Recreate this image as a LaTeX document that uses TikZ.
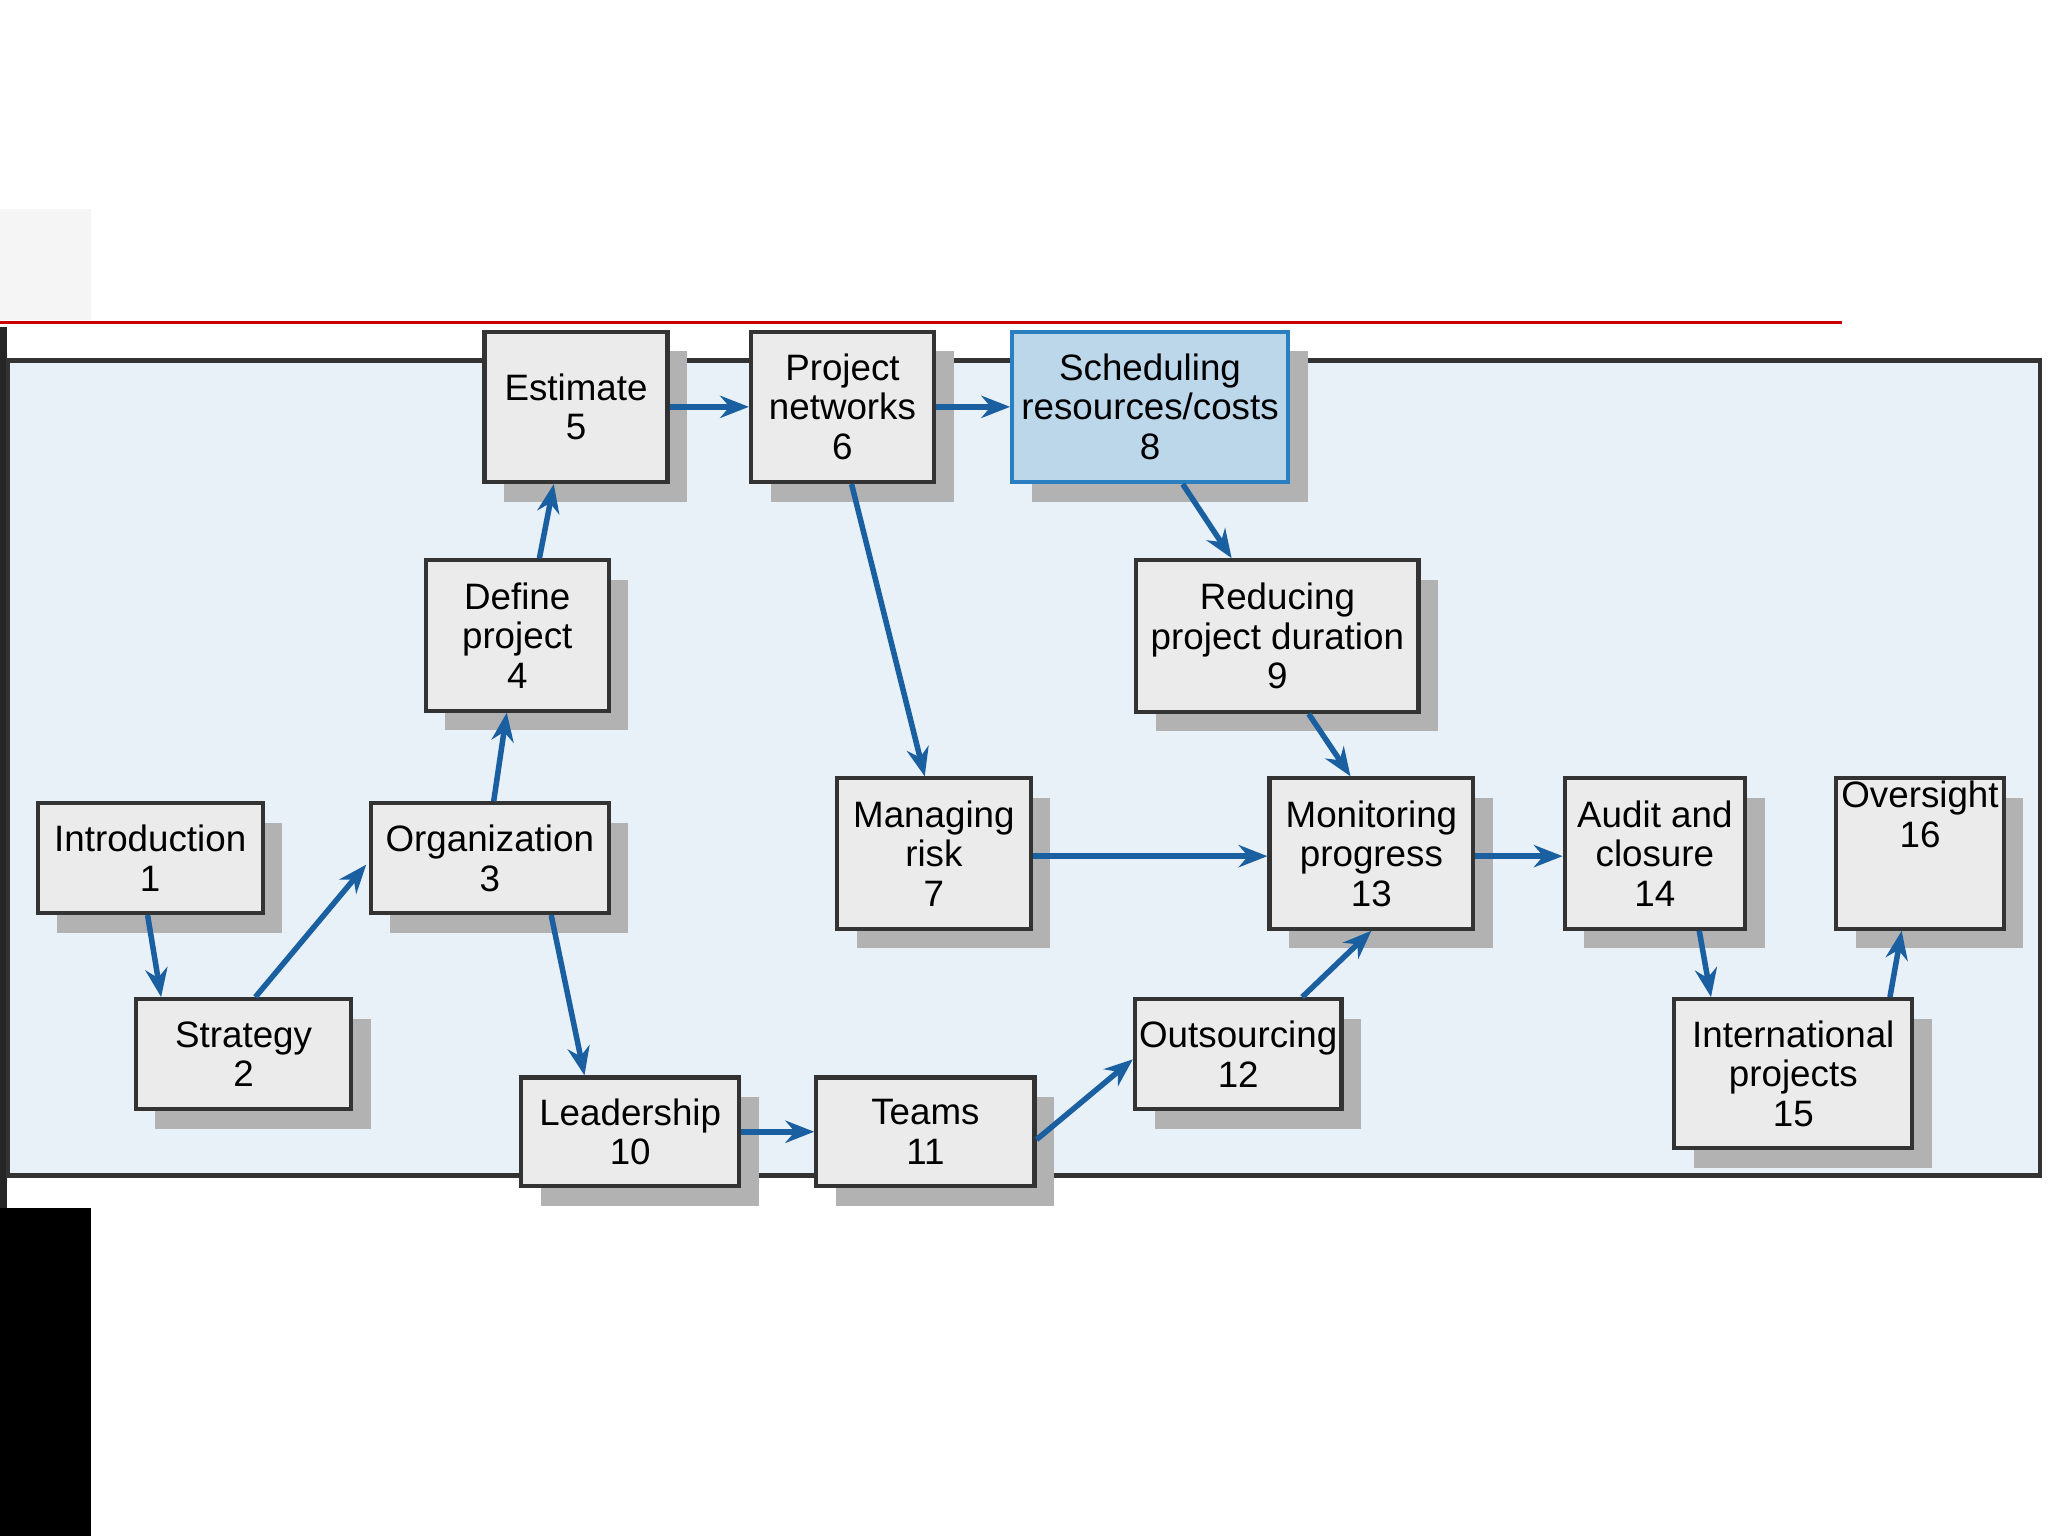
\documentclass[tikz,border=0pt]{standalone}
\usepackage{fontspec}
\setmainfont{Liberation Sans}
\usetikzlibrary{arrows.meta,calc,shadows}
\definecolor{panel}{HTML}{E8F0F8}
\definecolor{boxfill}{HTML}{EBEBEB}
\definecolor{arr}{HTML}{1A5FA0}
\definecolor{schedfill}{HTML}{BCD6EA}
\definecolor{schedline}{HTML}{2A7FC0}
\tikzset{
  box/.style={draw=black!80, line width=0.9pt, fill=boxfill, align=center, inner sep=0pt,
    font=\fontsize{8}{8.6}\selectfont,
    drop shadow={shadow xshift=0.15cm, shadow yshift=-0.15cm, opacity=1, fill=black!30}},
  conn/.style={draw=arr, line width=1.2pt, -{Stealth[length=0.22cm,width=0.17cm]}}
}
\begin{document}
\begin{tikzpicture}[x=0.01cm,y=-0.01cm]
\useasboundingbox (0,0) rectangle (1568,1176);
\fill[white] (0,0) rectangle (1568,1176);
\fill[black!4] (0,160) rectangle (70,245);
\draw[red!80!black, line width=0.5pt] (0,247) -- (1410,247);
\fill[black] (0,925) rectangle (70,1176);
\fill[black!85] (0,250) rectangle (5,925);
\draw[fill=panel, draw=black!80, line width=0.9pt] (6,276) rectangle (1562,900);

\node[box, minimum width=1.72cm, minimum height=0.84cm] (n1) at (115,657) {Introduction\\1};
\node[box, minimum width=1.65cm, minimum height=0.84cm] (n2) at (186.5,807) {Strategy\\2};
\node[box, minimum width=1.82cm, minimum height=0.84cm] (n3) at (375,657) {Organization\\3};
\node[box, minimum width=1.40cm, minimum height=1.15cm] (n4) at (396,486.5) {Define\\project\\4};
\node[box, minimum width=1.40cm, minimum height=1.15cm] (n5) at (441,311.5) {Estimate\\5};
\node[box, minimum width=1.40cm, minimum height=1.15cm] (n6) at (645,311.5) {Project\\networks\\6};
\node[box, fill=schedfill, draw=schedline, minimum width=2.11cm, minimum height=1.15cm] (n8) at (880.5,311.5) {Scheduling\\resources/costs\\8};
\node[box, minimum width=2.16cm, minimum height=1.16cm] (n9) at (978,487) {Reducing\\project duration\\9};
\node[box, minimum width=1.48cm, minimum height=1.15cm] (n7) at (715,653.5) {Managing\\risk\\7};
\node[box, minimum width=1.56cm, minimum height=1.15cm] (n13) at (1050,653.5) {Monitoring\\progress\\13};
\node[box, minimum width=1.38cm, minimum height=1.15cm] (n14) at (1267,653.5) {Audit and\\closure\\14};
\node[box, minimum width=1.28cm, minimum height=1.15cm] (n16) at (1470,653.5) {Oversight\\16\\[8.6pt]};
\node[box, minimum width=1.82cm, minimum height=1.14cm] (n15) at (1373,822) {International\\projects\\15};
\node[box, minimum width=1.67cm, minimum height=0.83cm] (n10) at (482.5,866.5) {Leadership\\10};
\node[box, minimum width=1.67cm, minimum height=0.83cm] (n11) at (708.5,866.5) {Teams\\11};
\node[box, minimum width=1.58cm, minimum height=0.84cm] (n12) at (948,807) {Outsourcing\\12};

\draw[conn] ($(n1.south)+(-2,0)$) -- ($(n2.north west)+(21,0)$);
\draw[conn] ($(n2.north)+(9,0)$) -- ($(n3.west)+(-2,5)$);
\draw[conn] ($(n3.north)+(3,0)$) -- ($(n4.south)+(-8,0)$);
\draw[conn] ($(n4.north)+(17,0)$) -- ($(n5.south)+(-17,0)$);
\draw[conn] (n5.east) -- (n6.west);
\draw[conn] (n6.east) -- (n8.west);
\draw[conn] ($(n6.south)+(7,0)$) -- ($(n7.north)+(-7,0)$);
\draw[conn] ($(n8.south)+(25,0)$) -- ($(n9.north)+(-35,0)$);
\draw[conn] ($(n9.south)+(24,0)$) -- ($(n13.north)+(-16,0)$);
\draw[conn] ($(n7.east)+(0,2)$) -- ($(n13.west)+(0,2)$);
\draw[conn] ($(n13.east)+(0,2)$) -- ($(n14.west)+(0,2)$);
\draw[conn] ($(n3.south)+(47,0)$) -- ($(n10.north)+(-35,0)$);
\draw[conn] (n10.east) -- (n11.west);
\draw[conn] ($(n11.east)+(0,6)$) -- ($(n12.west)+(0,4)$);
\draw[conn] ($(n12.north)+(49,0)$) -- ($(n13.south)+(0,0)$);
\draw[conn] ($(n14.south)+(34,0)$) -- ($(n15.north)+(-63,0)$);
\draw[conn] ($(n15.north)+(74,0)$) -- ($(n16.south)+(-14,0)$);
\end{tikzpicture}
\end{document}
